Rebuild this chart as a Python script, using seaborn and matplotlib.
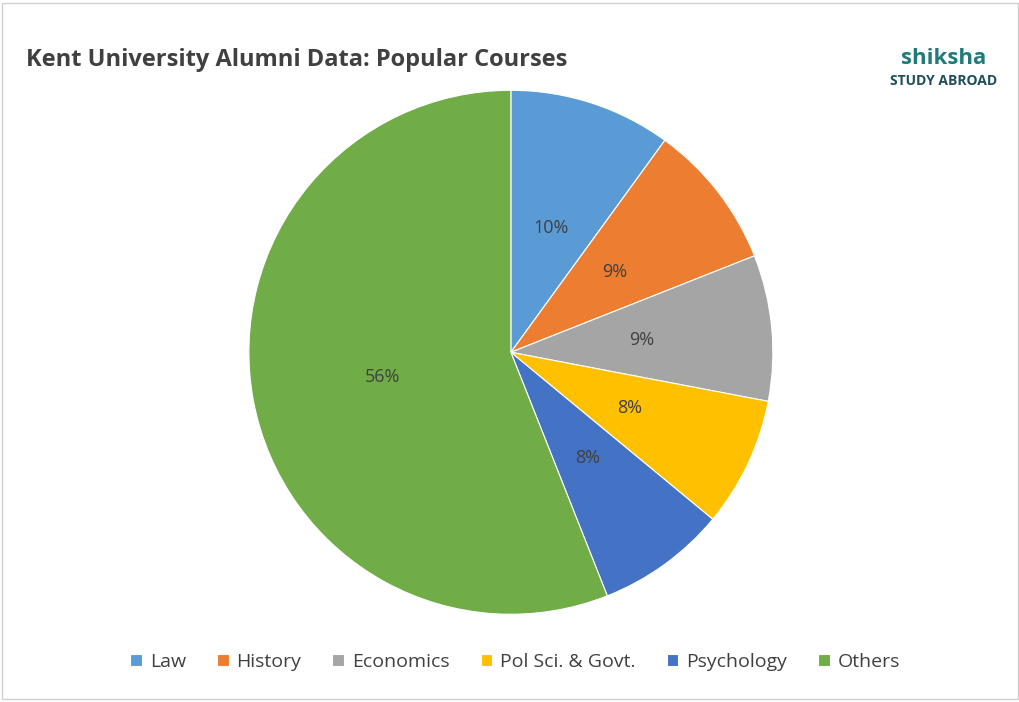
import matplotlib
matplotlib.use("Agg")
import matplotlib.pyplot as plt
import seaborn as sns

sns.set_theme(style="white")
plt.rcParams['font.family'] = ['Open Sans', 'DejaVu Sans']

courses = ["Law", "History", "Economics", "Pol Sci. & Govt.", "Psychology", "Others"]
shares = [10, 9, 9, 8, 8, 56]
colors = ["#5B9BD5", "#ED7D31", "#A5A5A5", "#FFC000", "#4472C4", "#70AD47"]

fig = plt.figure(figsize=(10.2, 7.02), dpi=100)
fig.patch.set_facecolor("white")
fig.patches.append(plt.Rectangle((0.002, 0.004), 0.996, 0.992, transform=fig.transFigure,
                                 fill=False, edgecolor="#D0D0D0", lw=1))

ax = fig.add_axes([0.244, 0.125, 0.5137, 0.7464])
wedges, texts, autotexts = ax.pie(
    shares, colors=colors, startangle=90, counterclock=False,
    autopct="%1.0f%%", pctdistance=0.5, radius=1.0,
    wedgeprops=dict(edgecolor="white", linewidth=0.8),
    textprops=dict(color="#404040", fontsize=13),
)
ax.set_xlim(-1, 1)
ax.set_ylim(-1, 1)
ax.set_aspect("equal")

fig.text(0.025, 0.915, "Kent University Alumni Data: Popular Courses",
         fontsize=17, fontweight="bold", color="#404040", va="center")

# logo text
fig.text(0.925, 0.917, "shiksha", fontsize=16, fontweight="bold", color="#1F7A78",
         ha="center", va="center")
fig.text(0.925, 0.885, "STUDY ABROAD", fontsize=10, fontweight="bold", color="#1F4E5A",
         ha="center", va="center")

fig.legend(wedges, courses, loc="center", bbox_to_anchor=(0.505, 0.057), ncol=6,
           frameon=False, fontsize=14, handlelength=0.6, handleheight=0.6,
           columnspacing=1.6, handletextpad=0.4, labelcolor="#404040")

fig.savefig("out.png", dpi=100, facecolor="white")
